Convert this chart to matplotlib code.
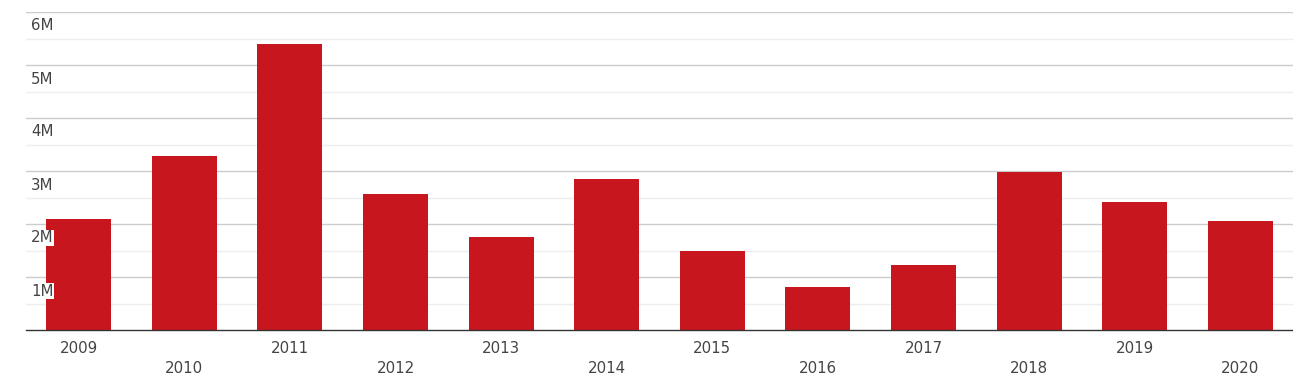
import matplotlib
matplotlib.use("Agg")
import matplotlib.pyplot as plt
import matplotlib.transforms as mtransforms
import numpy as np

years = ["2009", "2010", "2011", "2012", "2013", "2014",
         "2015", "2016", "2017", "2018", "2019", "2020"]
values = [2.09, 3.28, 5.40, 2.57, 1.76, 2.85,
          1.49, 0.81, 1.23, 2.98, 2.42, 2.06]  # millions
ytick_vals = [1, 2, 3, 4, 5, 6]
ytick_labels = ["1M", "2M", "3M", "4M", "5M", "6M"]

fig = plt.figure(figsize=(12.93, 3.84), dpi=100)
ax = fig.add_axes([26 / 1293, 1 - 330 / 384, 1267 / 1293, 318 / 384])

x = np.arange(len(years))
ax.bar(x, values, width=0.615, color="#c8161e", zorder=2)

ax.set_xlim(-0.5, len(years) - 0.5)
ax.set_ylim(0, 6)

# gridlines: major every 1M, minor every 0.5M
for v in np.arange(0.5, 6.01, 0.5):
    major = abs(v - round(v)) < 1e-9
    ax.axhline(v, color="#cccccc" if major else "#eeeeee", lw=1, zorder=1)

ax.set_yticks([])
ax.set_xticks([])
for s in ["top", "right", "left"]:
    ax.spines[s].set_visible(False)
ax.spines["bottom"].set_color("#333333")
ax.spines["bottom"].set_linewidth(1)
ax.spines["bottom"].set_zorder(3)

# y labels inside the plot, just under each gridline
trans = mtransforms.blended_transform_factory(ax.transAxes, ax.transData)
for v, lab in zip(ytick_vals, ytick_labels):
    t = ax.text(5 / 1267, v, lab, transform=trans, ha="left", va="top",
                fontsize=10.8, color="#444444", zorder=4,
                bbox=dict(boxstyle="square,pad=0.05", fc="white", ec="none"))
    t.set_transform(trans + mtransforms.ScaledTranslation(0, -6.5 / 72 * 0.72, fig.dpi_scale_trans))

# staggered year labels
xtrans = mtransforms.blended_transform_factory(ax.transData, ax.transAxes)
for i, yr in enumerate(years):
    off = -11 if i % 2 == 0 else -31
    t = ax.text(i, 0, yr, transform=xtrans, ha="center", va="top",
                fontsize=10.8, color="#444444")
    t.set_transform(xtrans + mtransforms.ScaledTranslation(0, off / 72 * 0.72, fig.dpi_scale_trans))

fig.savefig("out.png", dpi=100)
